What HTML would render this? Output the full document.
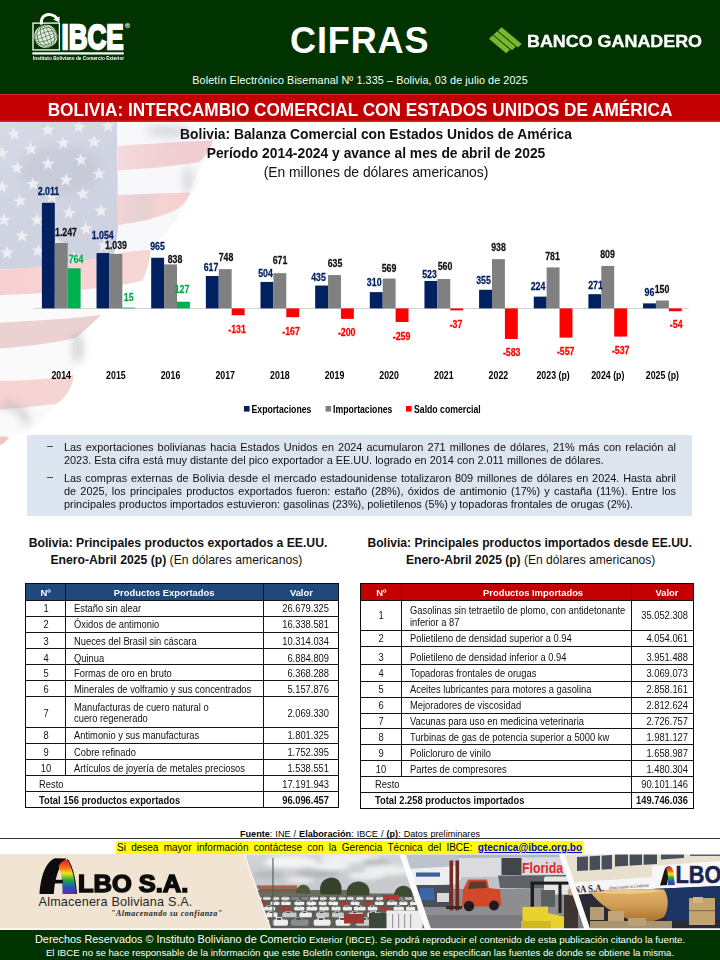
<!DOCTYPE html>
<html lang="es">
<head>
<meta charset="utf-8">
<title>CIFRAS - Bolivia: Intercambio comercial con Estados Unidos de América</title>
<style>
*{margin:0;padding:0;box-sizing:border-box}
html,body{width:720px;height:960px;overflow:hidden;background:#fff}
body{font-family:"Liberation Sans",sans-serif;color:#000;position:relative}
#page{position:absolute;left:0;top:0;width:720px;height:960px;overflow:hidden;background:#fff}
.abs{position:absolute;white-space:nowrap;line-height:1}
/* header */
#hdr{position:absolute;left:0;top:0;width:720px;height:94px;background:#003300}
#banner{position:absolute;left:0;top:94px;width:720px;height:27.8px;background:linear-gradient(#d8483a 0,#c20003 1.5px,#c20003 25.5px,#cf2a2a 27.7px)}
#cifras{left:290px;top:23px;letter-spacing:.9px;font-size:36px;font-weight:bold;color:#fff;line-height:36px}
#sub{left:0;width:720px;text-align:center;top:74.2px;letter-spacing:.09px;font-size:10.8px;color:#fff;line-height:12px}
#btxt{left:0;width:720px;text-align:center;top:100px;transform:scaleX(.983);font-size:17.5px;font-weight:bold;color:#fff;line-height:21px}
#bg{left:527px;top:31.6px;font-size:17px;font-weight:bold;color:#fff;line-height:20px;transform-origin:0 0;transform:scaleX(1.053);-webkit-text-stroke:.35px #fff}
#ibcesub{left:32.5px;top:55.2px;transform:scaleX(.885);font-size:5.4px;font-weight:bold;color:#fff;line-height:7px;transform-origin:0 0}
.ct{left:32px;width:688px;text-align:center;font-size:13.85px;line-height:15px;color:#111}
.nt{font-size:10.9px;line-height:12px;color:#111}
.j{text-align:justify;text-align-last:justify;white-space:normal}
.tt{font-size:12.2px;line-height:15px;color:#111}
.hl{height:1.05px;background:#141414}
.vl{width:1.05px;background:#141414}
.th{text-align:center;transform:scaleX(.95);font-size:9.9px;font-weight:bold;color:#fff;line-height:11px}
.td{font-size:10px;line-height:11px;color:#111;transform:scaleX(.935);transform-origin:0 50%}
.td.r{transform-origin:100% 50%}
.td.c{transform-origin:50% 50%}
.b{font-weight:bold}
.ft{left:0;width:720px;text-align:center;color:#fff;font-size:10.2px;line-height:12px}
</style>
</head>
<body>
<div id="page">

<!-- HEADER -->
<div id="hdr"></div>
<svg id="logos" class="abs" style="left:0;top:0" width="720" height="94" viewBox="0 0 720 94">
<rect x="33" y="23.1" width="26.4" height="26.8" fill="none" stroke="#fff" stroke-width="1.3"/>
<circle cx="45.8" cy="36.4" r="11.6" fill="#e9efe6"/>
<g fill="none" stroke="#2a5a22" stroke-width=".7" opacity=".85"><ellipse cx="45.8" cy="36.4" rx="11.6" ry="4.2" transform="rotate(-20 45.8 36.4)"/><ellipse cx="45.8" cy="36.4" rx="11.6" ry="8.4" transform="rotate(-20 45.8 36.4)"/><ellipse cx="45.8" cy="36.4" rx="4.2" ry="11.6" transform="rotate(-20 45.8 36.4)"/><ellipse cx="45.8" cy="36.4" rx="8.4" ry="11.6" transform="rotate(-20 45.8 36.4)"/><line x1="34.9" y1="40.4" x2="56.7" y2="32.4"/><line x1="41.8" y1="25.5" x2="49.8" y2="47.3"/></g>
<path d="M41.6,24.5 C40.2,17 45.5,13.6 50.5,14.6 C53.5,15.2 55.6,16.6 56.6,18.2" fill="none" stroke="#fff" stroke-width="3" stroke-linecap="butt"/>
<polygon points="53.2,19.6 59.6,16.4 59.4,22.6" fill="#fff"/>
<text x="61.6" y="49.3" font-family="Liberation Sans, sans-serif" font-weight="bold" font-size="35" fill="#fff" stroke="#fff" stroke-width="2.3" stroke-linejoin="miter" textLength="62" lengthAdjust="spacingAndGlyphs">IBCE</text>
<circle cx="127.5" cy="25.6" r="2.3" fill="none" stroke="#fff" stroke-width=".6"/>
<text x="127.5" y="26.9" text-anchor="middle" font-family="Liberation Sans, sans-serif" font-weight="bold" font-size="3.6" fill="#fff">R</text>
<rect x="32.4" y="52.3" width="91.3" height="2.2" fill="#fff"/>
<polygon points="501.7,27.2 521.7,43.9 517.9,47.4 497.9,30.7" fill="#79b72e"/>
<polygon points="497.2,31.3 515.8,46.8 512.0,50.3 493.4,34.7" fill="#79b72e"/>
<polygon points="492.8,35.3 510.0,49.7 506.1,53.2 488.9,38.8" fill="#79b72e"/>
</svg>
<div class="abs" id="ibcesub">Instituto Boliviano de Comercio Exterior</div>
<div class="abs" id="cifras">CIFRAS</div>
<div class="abs" id="bg">BANCO GANADERO</div>
<div class="abs" id="sub">Boletín Electrónico Bisemanal Nº 1.335 – Bolivia, 03 de julio de 2025</div>
<div id="banner"></div>
<div class="abs" id="btxt">BOLIVIA: INTERCAMBIO COMERCIAL CON ESTADOS UNIDOS DE AMÉRICA</div>

<!-- CHART -->
<svg id="flag" class="abs" style="left:0;top:122px" width="340" height="326" viewBox="0 122 340 326">
<defs><filter id="bl" x="-10%" y="-10%" width="120%" height="120%"><feGaussianBlur stdDeviation="0.6"/></filter><filter id="bl2" x="-30%" y="-30%" width="160%" height="160%"><feGaussianBlur stdDeviation="4"/></filter><filter id="bs" x="-20%" y="-20%" width="140%" height="140%"><feGaussianBlur stdDeviation="0.45"/></filter><linearGradient id="cg" x1="0" y1="0" x2=".4" y2="1"><stop offset="0" stop-color="#d9dbe7"/><stop offset=".5" stop-color="#d1d4e2"/><stop offset="1" stop-color="#ced1df"/></linearGradient><linearGradient id="r1" x1="0" y1="0" x2="1" y2="0"><stop offset="0" stop-color="#f5dadb"/><stop offset=".4" stop-color="#f1d1d4"/><stop offset="1" stop-color="#f0cccf"/></linearGradient><linearGradient id="r1b" x1="0" y1="0" x2="1" y2="0"><stop offset="0" stop-color="#f2d4d5"/><stop offset=".35" stop-color="#e6d0d2"/><stop offset=".6" stop-color="#f6d2d1"/><stop offset="1" stop-color="#f6d0cf"/></linearGradient><linearGradient id="r2" x1="0" y1="0" x2="1" y2="0"><stop offset="0" stop-color="#f7d0d0"/><stop offset="1" stop-color="#f7d6d6"/></linearGradient></defs>
<g filter="url(#bl)">
<path d="M-6,268 L112,262 C108,290 104,305 101,315 C92,324 80,334 76,340 C74,352 75,364 74,375 C72,388 66,398 56,404 C48,414 38,424 29,432 L-6,440 Z" fill="#fafafb"/>
<path d="M-6,112 L117,112 L118,227 C117,245 114,256 111,263 C75,266 35,268 -6,270 Z" fill="url(#cg)"/>
<path d="M118,122 L150,122 C170,128 190,134 213,140 C206,156 196,176 190,192 C186,204 180,216 170,228 C160,240 152,246 150,250 L118,254 Z" fill="#f8f8fa"/>
<path d="M118,146 C150,143.5 184,141.5 213,140.5 C211,148 206,156 199,162 C175,166 145,169 118,170.5 Z" fill="url(#r1)"/>
<path d="M118,195 C145,194 170,193 190,192.5 C188,199 184,205 176,210 C158,218 140,222 118,225 Z" fill="url(#r1b)"/>
<path d="M-6,270.5 C40,267.5 85,261 118,254 C130,251 140,250 151,250 C149,262 147,272 142,281 C110,288 60,293 -6,295.5 Z" fill="url(#r2)"/>
<path d="M-6,323 C30,321 70,319 101,315 C92,324 84,331 76,338 C50,344 20,347 -6,349 Z" fill="#ecd1d3"/>
<path d="M-6,381 C25,381 50,379 74,375 C72,388 66,398 56,404 C35,407 15,408 -6,410 Z" fill="#f7d4d4"/>
<path d="M-6,437.5 C0,436 6,436.4 9,438 L3,444 L-6,446.5 Z" fill="#f2c4c4"/>
</g>
<g filter="url(#bl2)">
<ellipse cx="170" cy="131" rx="24" ry="6" fill="#b8bac6" opacity=".5"/>
<ellipse cx="188" cy="180" rx="5" ry="13" fill="#a8a8b0" opacity=".38"/>
<ellipse cx="78" cy="348" rx="5" ry="16" fill="#9a9aa0" opacity=".45"/>
<path d="M2,405 C16,404 26,412 26,424" stroke="#a8a8ae" stroke-width="6" fill="none" opacity=".6"/>
<ellipse cx="60" cy="170" rx="40" ry="24" fill="#b4b6c4" opacity=".3"/>
</g>
<g fill="#f0f0f4" opacity=".9" filter="url(#bs)">
<polygon points="13.0,127.0 15.4,131.4 20.4,130.9 16.9,134.5 18.9,139.1 14.4,137.0 10.7,140.3 11.3,135.3 7.0,132.8 11.9,131.9"/>
<polygon points="47.9,122.9 49.7,127.6 54.7,127.7 50.9,130.9 52.3,135.7 48.1,133.0 43.9,135.8 45.2,131.0 41.2,127.9 46.2,127.6"/>
<polygon points="79.7,119.9 81.0,124.8 85.9,125.5 81.7,128.2 82.5,133.1 78.7,130.0 74.2,132.3 76.1,127.6 72.5,124.1 77.5,124.4"/>
<polygon points="62.6,135.9 64.6,140.5 69.6,140.5 65.9,143.8 67.5,148.5 63.2,146.0 59.1,149.0 60.2,144.1 56.1,141.2 61.1,140.7"/>
<polygon points="94.5,134.9 95.9,139.7 100.9,140.3 96.8,143.1 97.8,148.0 93.8,145.0 89.4,147.4 91.1,142.7 87.4,139.3 92.4,139.5"/>
<polygon points="30.4,141.9 32.5,146.4 37.5,146.2 33.9,149.7 35.7,154.4 31.3,152.0 27.3,155.1 28.3,150.2 24.1,147.4 29.0,146.7"/>
<polygon points="2.2,145.9 3.8,150.7 8.8,151.0 4.8,154.0 6.0,158.9 1.9,156.0 -2.4,158.6 -0.9,153.8 -4.7,150.6 0.3,150.5"/>
<polygon points="80.1,153.0 82.4,157.4 87.4,157.0 83.9,160.6 85.8,165.2 81.4,163.0 77.6,166.2 78.3,161.3 74.0,158.6 79.0,157.8"/>
<polygon points="48.0,156.9 49.8,161.6 54.8,161.8 50.8,164.9 52.2,169.7 48.0,167.0 43.8,169.7 45.2,164.9 41.2,161.8 46.2,161.6"/>
<polygon points="17.9,161.0 19.0,165.8 24.0,166.6 19.7,169.3 20.4,174.2 16.6,171.0 12.2,173.2 14.1,168.6 10.6,165.0 15.6,165.4"/>
<polygon points="98.8,166.9 100.7,171.5 105.7,171.6 101.9,174.8 103.4,179.6 99.1,177.0 95.0,179.9 96.2,175.0 92.2,172.0 97.2,171.7"/>
<polygon points="66.6,172.9 68.0,177.7 72.9,178.4 68.7,181.2 69.7,186.1 65.7,183.0 61.3,185.4 63.1,180.7 59.5,177.2 64.5,177.4"/>
<polygon points="32.5,176.9 34.6,181.5 39.6,181.3 35.9,184.7 37.6,189.4 33.2,187.0 29.2,190.0 30.2,185.1 26.1,182.3 31.1,181.7"/>
<polygon points="2.4,179.9 3.9,184.7 8.9,185.2 4.8,188.1 5.9,193.0 1.8,190.0 -2.5,192.5 -0.9,187.8 -4.6,184.5 0.4,184.5"/>
<polygon points="82.3,186.9 84.5,191.4 89.5,191.1 85.9,194.6 87.8,199.3 83.3,197.0 79.5,200.1 80.3,195.2 76.1,192.5 81.0,191.8"/>
<polygon points="52.1,189.9 53.8,194.6 58.8,194.9 54.8,198.0 56.1,202.8 51.9,200.0 47.7,202.7 49.1,197.9 45.3,194.7 50.3,194.6"/>
<polygon points="19.0,194.0 21.4,198.4 26.4,197.9 22.9,201.5 24.9,206.1 20.4,204.0 16.7,207.3 17.3,202.3 13.0,199.8 17.9,198.9"/>
<polygon points="100.9,203.9 102.7,208.6 107.7,208.7 103.9,211.9 105.3,216.7 101.1,214.0 96.9,216.8 98.2,212.0 94.2,208.9 99.2,208.6"/>
<polygon points="69.7,205.9 71.0,210.8 75.9,211.5 71.7,214.2 72.5,219.1 68.7,216.0 64.2,218.3 66.1,213.6 62.5,210.1 67.5,210.4"/>
<polygon points="36.6,212.9 38.6,217.5 43.6,217.5 39.9,220.8 41.5,225.5 37.2,223.0 33.1,226.0 34.2,221.1 30.1,218.2 35.1,217.7"/>
<polygon points="4.5,212.9 5.9,217.7 10.9,218.3 6.8,221.1 7.8,226.0 3.8,223.0 -0.6,225.4 1.1,220.7 -2.6,217.3 2.4,217.5"/>
<polygon points="85.4,221.9 87.5,226.4 92.5,226.2 88.9,229.7 90.7,234.4 86.3,232.0 82.3,235.1 83.3,230.2 79.1,227.4 84.0,226.7"/>
<polygon points="22.2,228.9 23.8,233.7 28.8,234.0 24.8,237.0 26.0,241.9 21.9,239.0 17.6,241.6 19.1,236.8 15.3,233.6 20.3,233.5"/>
<polygon points="56.1,237.0 58.4,241.4 63.4,241.0 59.9,244.6 61.8,249.2 57.4,247.0 53.6,250.2 54.3,245.3 50.0,242.6 55.0,241.8"/>
<polygon points="7.0,245.9 8.8,250.6 13.8,250.8 9.8,253.9 11.2,258.7 7.0,256.0 2.8,258.7 4.2,253.9 0.2,250.8 5.2,250.6"/>
<polygon points="38.9,244.0 40.0,248.8 45.0,249.6 40.7,252.3 41.4,257.2 37.6,254.0 33.2,256.2 35.1,251.6 31.6,248.0 36.6,248.4"/>
<polygon points="107.8,118.9 109.7,123.5 114.7,123.6 110.9,126.8 112.4,131.6 108.1,129.0 104.0,131.9 105.2,127.0 101.2,124.0 106.2,123.7"/>
<polygon points="104.6,238.9 106.0,243.7 110.9,244.4 106.7,247.2 107.7,252.1 103.7,249.0 99.3,251.4 101.1,246.7 97.5,243.2 102.5,243.4"/>
<polygon points="73.5,250.9 75.6,255.5 80.6,255.3 76.9,258.7 78.6,263.4 74.2,261.0 70.2,264.0 71.2,259.1 67.1,256.3 72.1,255.7"/>
</g></svg>
<svg id="chart" class="abs" style="left:0;top:122px" width="720" height="311" viewBox="0 122 720 311" font-family="Liberation Sans, sans-serif" font-weight="bold">
<rect x="33.5" y="308.0" width="655" height="0.9" fill="#d0d0d0"/>
<rect x="41.90" y="202.82" width="12.9" height="105.58" fill="#002060"/>
<rect x="54.80" y="242.93" width="12.9" height="65.47" fill="#808080"/>
<rect x="67.70" y="268.29" width="12.9" height="40.11" fill="#00b050"/>
<rect x="96.55" y="253.06" width="12.9" height="55.34" fill="#002060"/>
<rect x="109.45" y="253.85" width="12.9" height="54.55" fill="#808080"/>
<rect x="122.35" y="307.61" width="12.9" height="0.79" fill="#00b050"/>
<rect x="151.20" y="257.74" width="12.9" height="50.66" fill="#002060"/>
<rect x="164.10" y="264.40" width="12.9" height="43.99" fill="#808080"/>
<rect x="177.00" y="301.73" width="12.9" height="6.67" fill="#00b050"/>
<rect x="205.85" y="276.01" width="12.9" height="32.39" fill="#002060"/>
<rect x="218.75" y="269.13" width="12.9" height="39.27" fill="#808080"/>
<rect x="231.65" y="308.40" width="12.9" height="6.88" fill="#ff0000"/>
<rect x="260.50" y="281.94" width="12.9" height="26.46" fill="#002060"/>
<rect x="273.40" y="273.17" width="12.9" height="35.23" fill="#808080"/>
<rect x="286.30" y="308.40" width="12.9" height="8.77" fill="#ff0000"/>
<rect x="315.15" y="285.56" width="12.9" height="22.84" fill="#002060"/>
<rect x="328.05" y="275.06" width="12.9" height="33.34" fill="#808080"/>
<rect x="340.95" y="308.40" width="12.9" height="10.50" fill="#ff0000"/>
<rect x="369.80" y="292.12" width="12.9" height="16.27" fill="#002060"/>
<rect x="382.70" y="278.53" width="12.9" height="29.87" fill="#808080"/>
<rect x="395.60" y="308.40" width="12.9" height="13.60" fill="#ff0000"/>
<rect x="424.45" y="280.94" width="12.9" height="27.46" fill="#002060"/>
<rect x="437.35" y="279.00" width="12.9" height="29.40" fill="#808080"/>
<rect x="450.25" y="308.40" width="12.9" height="1.94" fill="#ff0000"/>
<rect x="479.10" y="289.76" width="12.9" height="18.64" fill="#002060"/>
<rect x="492.00" y="259.15" width="12.9" height="49.24" fill="#808080"/>
<rect x="504.90" y="308.40" width="12.9" height="30.61" fill="#ff0000"/>
<rect x="533.75" y="296.64" width="12.9" height="11.76" fill="#002060"/>
<rect x="546.65" y="267.40" width="12.9" height="41.00" fill="#808080"/>
<rect x="559.55" y="308.40" width="12.9" height="29.24" fill="#ff0000"/>
<rect x="588.40" y="294.17" width="12.9" height="14.23" fill="#002060"/>
<rect x="601.30" y="265.93" width="12.9" height="42.47" fill="#808080"/>
<rect x="614.20" y="308.40" width="12.9" height="28.19" fill="#ff0000"/>
<rect x="643.05" y="303.36" width="12.9" height="5.04" fill="#002060"/>
<rect x="655.95" y="300.52" width="12.9" height="7.88" fill="#808080"/>
<rect x="668.85" y="308.40" width="12.9" height="2.83" fill="#ff0000"/>
<g transform="translate(48.5,194.5) scale(0.815,1)"><text text-anchor="middle" font-size="10.8" fill="#002060" stroke="#002060" stroke-width=".25">2.011</text></g>
<g transform="translate(66.0,235.5) scale(0.815,1)"><text text-anchor="middle" font-size="10.8" fill="#111111" stroke="#111111" stroke-width=".25">1.247</text></g>
<g transform="translate(76,262.5) scale(0.815,1)"><text text-anchor="middle" font-size="10.8" fill="#00b050" stroke="#00b050" stroke-width=".25">764</text></g>
<g transform="translate(102.7,239.0) scale(0.815,1)"><text text-anchor="middle" font-size="10.8" fill="#002060" stroke="#002060" stroke-width=".25">1.054</text></g>
<g transform="translate(116,249.0) scale(0.815,1)"><text text-anchor="middle" font-size="10.8" fill="#111111" stroke="#111111" stroke-width=".25">1.039</text></g>
<g transform="translate(128.7,300.5) scale(0.815,1)"><text text-anchor="middle" font-size="10.8" fill="#00b050" stroke="#00b050" stroke-width=".25">15</text></g>
<g transform="translate(157.5,249.5) scale(0.815,1)"><text text-anchor="middle" font-size="10.8" fill="#002060" stroke="#002060" stroke-width=".25">965</text></g>
<g transform="translate(175,262.5) scale(0.815,1)"><text text-anchor="middle" font-size="10.8" fill="#111111" stroke="#111111" stroke-width=".25">838</text></g>
<g transform="translate(182,293.0) scale(0.815,1)"><text text-anchor="middle" font-size="10.8" fill="#00b050" stroke="#00b050" stroke-width=".25">127</text></g>
<g transform="translate(211,271.0) scale(0.815,1)"><text text-anchor="middle" font-size="10.8" fill="#002060" stroke="#002060" stroke-width=".25">617</text></g>
<g transform="translate(226,260.5) scale(0.815,1)"><text text-anchor="middle" font-size="10.8" fill="#111111" stroke="#111111" stroke-width=".25">748</text></g>
<g transform="translate(237,332.5) scale(0.815,1)"><text text-anchor="middle" font-size="10.8" fill="#ff0000" stroke="#ff0000" stroke-width=".25">-131</text></g>
<g transform="translate(265.5,277.0) scale(0.815,1)"><text text-anchor="middle" font-size="10.8" fill="#002060" stroke="#002060" stroke-width=".25">504</text></g>
<g transform="translate(280,264.0) scale(0.815,1)"><text text-anchor="middle" font-size="10.8" fill="#111111" stroke="#111111" stroke-width=".25">671</text></g>
<g transform="translate(291,334.5) scale(0.815,1)"><text text-anchor="middle" font-size="10.8" fill="#ff0000" stroke="#ff0000" stroke-width=".25">-167</text></g>
<g transform="translate(318.5,281.0) scale(0.815,1)"><text text-anchor="middle" font-size="10.8" fill="#002060" stroke="#002060" stroke-width=".25">435</text></g>
<g transform="translate(335,266.5) scale(0.815,1)"><text text-anchor="middle" font-size="10.8" fill="#111111" stroke="#111111" stroke-width=".25">635</text></g>
<g transform="translate(346.7,335.5) scale(0.815,1)"><text text-anchor="middle" font-size="10.8" fill="#ff0000" stroke="#ff0000" stroke-width=".25">-200</text></g>
<g transform="translate(374.2,285.5) scale(0.815,1)"><text text-anchor="middle" font-size="10.8" fill="#002060" stroke="#002060" stroke-width=".25">310</text></g>
<g transform="translate(389,271.5) scale(0.815,1)"><text text-anchor="middle" font-size="10.8" fill="#111111" stroke="#111111" stroke-width=".25">569</text></g>
<g transform="translate(401.5,339.5) scale(0.815,1)"><text text-anchor="middle" font-size="10.8" fill="#ff0000" stroke="#ff0000" stroke-width=".25">-259</text></g>
<g transform="translate(429.5,277.5) scale(0.815,1)"><text text-anchor="middle" font-size="10.8" fill="#002060" stroke="#002060" stroke-width=".25">523</text></g>
<g transform="translate(445,269.5) scale(0.815,1)"><text text-anchor="middle" font-size="10.8" fill="#111111" stroke="#111111" stroke-width=".25">560</text></g>
<g transform="translate(456,327.5) scale(0.815,1)"><text text-anchor="middle" font-size="10.8" fill="#ff0000" stroke="#ff0000" stroke-width=".25">-37</text></g>
<g transform="translate(483.5,283.5) scale(0.815,1)"><text text-anchor="middle" font-size="10.8" fill="#002060" stroke="#002060" stroke-width=".25">355</text></g>
<g transform="translate(498.5,250.5) scale(0.815,1)"><text text-anchor="middle" font-size="10.8" fill="#111111" stroke="#111111" stroke-width=".25">938</text></g>
<g transform="translate(511.7,356.0) scale(0.815,1)"><text text-anchor="middle" font-size="10.8" fill="#ff0000" stroke="#ff0000" stroke-width=".25">-583</text></g>
<g transform="translate(538,290.0) scale(0.815,1)"><text text-anchor="middle" font-size="10.8" fill="#002060" stroke="#002060" stroke-width=".25">224</text></g>
<g transform="translate(552.5,259.5) scale(0.815,1)"><text text-anchor="middle" font-size="10.8" fill="#111111" stroke="#111111" stroke-width=".25">781</text></g>
<g transform="translate(565.7,355.0) scale(0.815,1)"><text text-anchor="middle" font-size="10.8" fill="#ff0000" stroke="#ff0000" stroke-width=".25">-557</text></g>
<g transform="translate(595.5,289.0) scale(0.815,1)"><text text-anchor="middle" font-size="10.8" fill="#002060" stroke="#002060" stroke-width=".25">271</text></g>
<g transform="translate(607.5,258.0) scale(0.815,1)"><text text-anchor="middle" font-size="10.8" fill="#111111" stroke="#111111" stroke-width=".25">809</text></g>
<g transform="translate(620.7,354.0) scale(0.815,1)"><text text-anchor="middle" font-size="10.8" fill="#ff0000" stroke="#ff0000" stroke-width=".25">-537</text></g>
<g transform="translate(649.5,295.5) scale(0.815,1)"><text text-anchor="middle" font-size="10.8" fill="#002060" stroke="#002060" stroke-width=".25">96</text></g>
<g transform="translate(662,293.0) scale(0.815,1)"><text text-anchor="middle" font-size="10.8" fill="#111111" stroke="#111111" stroke-width=".25">150</text></g>
<g transform="translate(676.2,328.0) scale(0.815,1)"><text text-anchor="middle" font-size="10.8" fill="#ff0000" stroke="#ff0000" stroke-width=".25">-54</text></g>
<g transform="translate(61.2,378.7) scale(.88,1)"><text text-anchor="middle" font-size="10" fill="#000">2014</text></g>
<g transform="translate(115.9,378.7) scale(.88,1)"><text text-anchor="middle" font-size="10" fill="#000">2015</text></g>
<g transform="translate(170.5,378.7) scale(.88,1)"><text text-anchor="middle" font-size="10" fill="#000">2016</text></g>
<g transform="translate(225.2,378.7) scale(.88,1)"><text text-anchor="middle" font-size="10" fill="#000">2017</text></g>
<g transform="translate(279.9,378.7) scale(.88,1)"><text text-anchor="middle" font-size="10" fill="#000">2018</text></g>
<g transform="translate(334.5,378.7) scale(.88,1)"><text text-anchor="middle" font-size="10" fill="#000">2019</text></g>
<g transform="translate(389.1,378.7) scale(.88,1)"><text text-anchor="middle" font-size="10" fill="#000">2020</text></g>
<g transform="translate(443.8,378.7) scale(.88,1)"><text text-anchor="middle" font-size="10" fill="#000">2021</text></g>
<g transform="translate(498.4,378.7) scale(.88,1)"><text text-anchor="middle" font-size="10" fill="#000">2022</text></g>
<g transform="translate(553.1,378.7) scale(.88,1)"><text text-anchor="middle" font-size="10" fill="#000">2023 (p)</text></g>
<g transform="translate(607.8,378.7) scale(.88,1)"><text text-anchor="middle" font-size="10" fill="#000">2024 (p)</text></g>
<g transform="translate(662.4,378.7) scale(.88,1)"><text text-anchor="middle" font-size="10" fill="#000">2025 (p)</text></g>
<rect x="244" y="406" width="5.6" height="5.6" fill="#002060"/>
<g transform="translate(251.5,412.6) scale(.87,1)"><text font-size="10" fill="#000">Exportaciones</text></g>
<rect x="325.5" y="406" width="5.6" height="5.6" fill="#808080"/>
<g transform="translate(333,412.6) scale(.87,1)"><text font-size="10" fill="#000">Importaciones</text></g>
<rect x="406" y="406" width="5.6" height="5.6" fill="#ff0000"/>
<g transform="translate(414,412.6) scale(.87,1)"><text font-size="10" fill="#000">Saldo comercial</text></g>
</svg>
<div class="abs ct" id="ct1" style="top:127.2px"><b>Bolivia: Balanza Comercial con Estados Unidos de América</b></div>
<div class="abs ct" id="ct2" style="top:145.8px"><b>Período 2014-2024 y avance al mes de abril de 2025</b></div>
<div class="abs ct" id="ct3" style="top:164.8px">(En millones de dólares americanos)</div>

<!-- NOTES -->

<!-- TABLES -->
<div id="notes" class="abs" style="left:26.7px;top:435px;width:665.8px;height:80.7px;background:#dce5f0"></div>
<div class="abs nt" style="left:46.9px;top:439.3px">–</div>
<div class="abs nt" style="left:46.9px;top:470.3px">–</div>
<div class="abs nt j" style="left:64px;top:441.1px;width:612px">Las exportaciones bolivianas hacia Estados Unidos en 2024 acumularon 271 millones de dólares, 21% más con relación al</div>
<div class="abs nt" style="left:64px;top:454.3px">2023. Esta cifra está muy distante del pico exportador a EE.UU. logrado en 2014 con 2.011 millones de dólares.</div>
<div class="abs nt j" style="left:64px;top:472px;width:612px">Las compras externas de Bolivia desde el mercado estadounidense totalizaron 809 millones de dólares en 2024. Hasta abril</div>
<div class="abs nt j" style="left:64px;top:485.1px;width:612px">de 2025, los principales productos exportados fueron: estaño (28%), óxidos de antimonio (17%) y castaña (11%). Entre los</div>
<div class="abs nt" style="left:64px;top:497.9px">principales productos importados estuvieron: gasolinas (23%), polietilenos (5%) y topadoras frontales de orugas (2%).</div>
<div class="abs tt" style="left:28.7px;top:536.2px"><b>Bolivia: Principales productos exportados a EE.UU.</b></div>
<div class="abs tt" style="left:50.4px;top:552.6px"><b>Enero-Abril 2025 (p)</b> (En dólares americanos)</div>
<div class="abs tt" style="left:367.5px;top:536.2px;font-size:12.07px"><b>Bolivia: Principales productos importados desde EE.UU.</b></div>
<div class="abs tt" style="left:406px;top:552.6px;font-size:12.07px"><b>Enero-Abril 2025 (p)</b> (En dólares americanos)</div>
<div class="abs" style="left:26px;top:584px;width:312.3px;height:16.299999999999955px;background:#1f497d"></div>
<div class="abs" style="left:25.3px;top:583.3px;width:313.7px;height:225.00000000000003px;border:1.4px solid #0a0a0a"></div>
<div class="abs hl" style="left:26px;top:599.8px;width:312.3px"></div>
<div class="abs hl" style="left:26px;top:615.7px;width:312.3px"></div>
<div class="abs hl" style="left:26px;top:631.8px;width:312.3px"></div>
<div class="abs hl" style="left:26px;top:647.8px;width:312.3px"></div>
<div class="abs hl" style="left:26px;top:663.8px;width:312.3px"></div>
<div class="abs hl" style="left:26px;top:680.0px;width:312.3px"></div>
<div class="abs hl" style="left:26px;top:696.3px;width:312.3px"></div>
<div class="abs hl" style="left:26px;top:727.0px;width:312.3px"></div>
<div class="abs hl" style="left:26px;top:742.8px;width:312.3px"></div>
<div class="abs hl" style="left:26px;top:759.0px;width:312.3px"></div>
<div class="abs hl" style="left:26px;top:775.2px;width:312.3px"></div>
<div class="abs hl" style="left:26px;top:791.2px;width:312.3px"></div>
<div class="abs vl" style="left:64.7px;top:584px;height:191.70000000000005px"></div>
<div class="abs vl" style="left:263.0px;top:584px;height:223.60000000000002px"></div>
<div class="abs th" style="left:26px;width:39.2px;top:586.65px">Nº</div>
<div class="abs th" style="left:65.2px;width:198.3px;top:586.65px">Productos Exportados</div>
<div class="abs th" style="left:263.5px;width:74.80000000000001px;top:586.65px">Valor</div>
<div class="abs td c" style="left:30.5px;width:30px;text-align:center;top:603.25px">1</div>
<div class="abs td" style="left:74px;top:603.25px">Estaño sin alear</div>
<div class="abs td r" style="left:249px;width:80px;text-align:right;top:603.25px">26.679.325</div>
<div class="abs td c" style="left:30.5px;width:30px;text-align:center;top:619.45px">2</div>
<div class="abs td" style="left:74px;top:619.45px">Óxidos de antimonio</div>
<div class="abs td r" style="left:249px;width:80px;text-align:right;top:619.45px">16.338.581</div>
<div class="abs td c" style="left:30.5px;width:30px;text-align:center;top:636.30px">3</div>
<div class="abs td" style="left:74px;top:636.30px">Nueces del Brasil sin cáscara</div>
<div class="abs td r" style="left:249px;width:80px;text-align:right;top:636.30px">10.314.034</div>
<div class="abs td c" style="left:30.5px;width:30px;text-align:center;top:652.50px">4</div>
<div class="abs td" style="left:74px;top:652.50px">Quinua</div>
<div class="abs td r" style="left:249px;width:80px;text-align:right;top:652.50px">6.884.809</div>
<div class="abs td c" style="left:30.5px;width:30px;text-align:center;top:668.45px">5</div>
<div class="abs td" style="left:74px;top:668.45px">Formas de oro en bruto</div>
<div class="abs td r" style="left:249px;width:80px;text-align:right;top:668.45px">6.368.288</div>
<div class="abs td c" style="left:30.5px;width:30px;text-align:center;top:684.05px">6</div>
<div class="abs td" style="left:74px;top:684.05px">Minerales de volframio y sus concentrados</div>
<div class="abs td r" style="left:249px;width:80px;text-align:right;top:684.05px">5.157.876</div>
<div class="abs td c" style="left:30.5px;width:30px;text-align:center;top:707.60px">7</div>
<div class="abs td" style="left:74px;top:702.40px">Manufacturas de cuero natural o</div>
<div class="abs td" style="left:74px;top:712.90px">cuero regenerado</div>
<div class="abs td r" style="left:249px;width:80px;text-align:right;top:707.60px">2.069.330</div>
<div class="abs td c" style="left:30.5px;width:30px;text-align:center;top:730.10px">8</div>
<div class="abs td" style="left:74px;top:730.10px">Antimonio y sus manufacturas</div>
<div class="abs td r" style="left:249px;width:80px;text-align:right;top:730.10px">1.801.325</div>
<div class="abs td c" style="left:30.5px;width:30px;text-align:center;top:746.65px">9</div>
<div class="abs td" style="left:74px;top:746.65px">Cobre refinado</div>
<div class="abs td r" style="left:249px;width:80px;text-align:right;top:746.65px">1.752.395</div>
<div class="abs td c" style="left:30.5px;width:30px;text-align:center;top:762.75px">10</div>
<div class="abs td" style="left:74px;top:762.75px">Artículos de joyería de metales preciosos</div>
<div class="abs td r" style="left:249px;width:80px;text-align:right;top:762.75px">1.538.551</div>
<div class="abs td" style="left:39px;top:779.30px">Resto</div>
<div class="abs td r" style="left:249px;width:80px;text-align:right;top:779.30px">17.191.943</div>
<div class="abs td b" style="left:39px;top:795.35px">Total 156 productos exportados</div>
<div class="abs td r b" style="left:249px;width:80px;text-align:right;top:795.35px">96.096.457</div>
<div class="abs" style="left:360.6px;top:584px;width:332.9px;height:16.399999999999977px;background:#c20000"></div>
<div class="abs" style="left:359.90000000000003px;top:583.3px;width:334.29999999999995px;height:225.4px;border:1.4px solid #0a0a0a"></div>
<div class="abs hl" style="left:360.6px;top:599.9px;width:332.9px"></div>
<div class="abs hl" style="left:360.6px;top:629.5px;width:332.9px"></div>
<div class="abs hl" style="left:360.6px;top:646.25px;width:332.9px"></div>
<div class="abs hl" style="left:360.6px;top:664.1px;width:332.9px"></div>
<div class="abs hl" style="left:360.6px;top:680.7px;width:332.9px"></div>
<div class="abs hl" style="left:360.6px;top:696.5px;width:332.9px"></div>
<div class="abs hl" style="left:360.6px;top:712.7px;width:332.9px"></div>
<div class="abs hl" style="left:360.6px;top:728.3px;width:332.9px"></div>
<div class="abs hl" style="left:360.6px;top:744.2px;width:332.9px"></div>
<div class="abs hl" style="left:360.6px;top:759.7px;width:332.9px"></div>
<div class="abs hl" style="left:360.6px;top:775.7px;width:332.9px"></div>
<div class="abs hl" style="left:360.6px;top:791.5px;width:332.9px"></div>
<div class="abs vl" style="left:400.9px;top:584px;height:192.20000000000005px"></div>
<div class="abs vl" style="left:631.0px;top:584px;height:224px"></div>
<div class="abs th" style="left:360.6px;width:40.799999999999955px;top:586.7px">Nº</div>
<div class="abs th" style="left:418.4px;width:230.10000000000002px;top:586.7px">Productos Importados</div>
<div class="abs th" style="left:635.5px;width:62.0px;top:586.7px">Valor</div>
<div class="abs td c" style="left:366px;width:30px;text-align:center;top:610.10px">1</div>
<div class="abs td" style="left:410px;top:605.15px">Gasolinas sin tetraetilo de plomo, con antidetonante</div>
<div class="abs td" style="left:410px;top:617.20px">inferior a 87</div>
<div class="abs td r" style="left:607.5px;width:80px;text-align:right;top:610.10px">35.052.308</div>
<div class="abs td c" style="left:366px;width:30px;text-align:center;top:633.35px">2</div>
<div class="abs td" style="left:410px;top:633.35px">Polietileno de densidad superior a 0.94</div>
<div class="abs td r" style="left:607.5px;width:80px;text-align:right;top:633.35px">4.054.061</div>
<div class="abs td c" style="left:366px;width:30px;text-align:center;top:651.85px">3</div>
<div class="abs td" style="left:410px;top:651.85px">Polietileno de densidad inferior a 0.94</div>
<div class="abs td r" style="left:607.5px;width:80px;text-align:right;top:651.85px">3.951.488</div>
<div class="abs td c" style="left:366px;width:30px;text-align:center;top:668.10px">4</div>
<div class="abs td" style="left:410px;top:668.10px">Topadoras frontales de orugas</div>
<div class="abs td r" style="left:607.5px;width:80px;text-align:right;top:668.10px">3.069.073</div>
<div class="abs td c" style="left:366px;width:30px;text-align:center;top:684.35px">5</div>
<div class="abs td" style="left:410px;top:684.35px">Aceites lubricantes para motores a gasolina</div>
<div class="abs td r" style="left:607.5px;width:80px;text-align:right;top:684.35px">2.858.161</div>
<div class="abs td c" style="left:366px;width:30px;text-align:center;top:700.10px">6</div>
<div class="abs td" style="left:410px;top:700.10px">Mejoradores de viscosidad</div>
<div class="abs td r" style="left:607.5px;width:80px;text-align:right;top:700.10px">2.812.624</div>
<div class="abs td c" style="left:366px;width:30px;text-align:center;top:716.10px">7</div>
<div class="abs td" style="left:410px;top:716.10px">Vacunas para uso en medicina veterinaria</div>
<div class="abs td r" style="left:607.5px;width:80px;text-align:right;top:716.10px">2.726.757</div>
<div class="abs td c" style="left:366px;width:30px;text-align:center;top:731.90px">8</div>
<div class="abs td" style="left:410px;top:731.90px">Turbinas de gas de potencia superior a 5000 kw</div>
<div class="abs td r" style="left:607.5px;width:80px;text-align:right;top:731.90px">1.981.127</div>
<div class="abs td c" style="left:366px;width:30px;text-align:center;top:747.85px">9</div>
<div class="abs td" style="left:410px;top:747.85px">Policloruro de vinilo</div>
<div class="abs td r" style="left:607.5px;width:80px;text-align:right;top:747.85px">1.658.987</div>
<div class="abs td c" style="left:366px;width:30px;text-align:center;top:763.85px">10</div>
<div class="abs td" style="left:410px;top:763.85px">Partes de compresores</div>
<div class="abs td r" style="left:607.5px;width:80px;text-align:right;top:763.85px">1.480.304</div>
<div class="abs td" style="left:375px;top:779.35px">Resto</div>
<div class="abs td r" style="left:607.5px;width:80px;text-align:right;top:779.35px">90.101.146</div>
<div class="abs td b" style="left:375px;top:795.25px">Total 2.258 productos importados</div>
<div class="abs td r b" style="left:607.5px;width:80px;text-align:right;top:795.25px">149.746.036</div>

<!-- FOOTER -->
<div class="abs" id="src" style="left:0;width:720px;text-align:center;top:828.8px;font-size:9.1px;word-spacing:.5px;line-height:10px"><b><u>Fuente</u></b>: INE / <b><u>Elaboración</u></b>: IBCE / <b><u>(p)</u></b>: Datos preliminares</div>
<div class="abs" style="left:0;top:837.8px;width:720px;height:1px;background:#333"></div>
<div class="abs" id="ylw" style="left:115.5px;top:841px;width:467.5px;height:13px;background:#ffff00"></div>
<div class="abs" id="ytx" style="left:117px;top:841.8px;font-size:10px;word-spacing:2.5px;line-height:11px">Si desea mayor información contáctese con la Gerencia Técnica del IBCE: <b style="color:#0000e0;text-decoration:underline">gtecnica@ibce.org.bo</b></div>
<div class="abs" id="beige" style="left:0;top:854px;width:720px;height:75px;background:#f1e4d2"></div>
<svg id="photos" class="abs" style="left:0;top:852px" width="720" height="78" viewBox="0 852 720 78">
<defs>
<filter id="pb" x="-5%" y="-5%" width="110%" height="110%"><feGaussianBlur stdDeviation="0.75"/></filter>
<filter id="pc" x="-5%" y="-5%" width="110%" height="110%"><feGaussianBlur stdDeviation="2.2"/></filter>
<clipPath id="c1"><polygon points="245,854.5 399.4,854.5 424.5,928.2 271,928.2"/></clipPath>
<clipPath id="c2"><polygon points="405.7,854.5 559,854.5 584,928.2 430.8,928.2"/></clipPath>
<clipPath id="c3"><polygon points="564.8,854.5 720,854.5 720,928.2 589.9,928.2"/></clipPath>
<linearGradient id="sky1" x1="0" y1="0" x2="0" y2="1"><stop offset="0" stop-color="#d4d8dc"/><stop offset="1" stop-color="#c4c8cc"/></linearGradient>
<linearGradient id="rb" x1="0" y1="0" x2="0" y2="1"><stop offset="0" stop-color="#e2201c"/><stop offset=".22" stop-color="#f0641c"/><stop offset=".4" stop-color="#f4e21c"/><stop offset=".6" stop-color="#22a83c"/><stop offset=".8" stop-color="#1c54c4"/><stop offset="1" stop-color="#6a2c9c"/></linearGradient>
<linearGradient id="tarp" x1="0" y1="0" x2="0" y2="1"><stop offset="0" stop-color="#e2b46c"/><stop offset=".5" stop-color="#d09c54"/><stop offset="1" stop-color="#a8702c"/></linearGradient>
</defs>
<polygon points="243.6,854 720,854 720,929.7 270.4,929.7" fill="#fbfbfb"/><rect x="0" y="928.3" width="720" height="1.5" fill="#fbfbf6"/>
<!-- photo 1: parking lot -->
<g clip-path="url(#c1)">
<rect x="240" y="850" width="190" height="40" fill="url(#sky1)"/>
<g filter="url(#pc)"><ellipse cx="290" cy="862" rx="26" ry="6" fill="#f4f4f4"/><ellipse cx="330" cy="866" rx="20" ry="4" fill="#f2f2f2"/><ellipse cx="366" cy="876" rx="18" ry="3.5" fill="#efefef"/><ellipse cx="300" cy="880" rx="14" ry="3" fill="#ececec"/><ellipse cx="350" cy="858" rx="30" ry="5" fill="#f0f0f0"/><ellipse cx="388" cy="870" rx="24" ry="5" fill="#eeeeee"/><ellipse cx="318" cy="874" rx="22" ry="4" fill="#b4b6ba"/><ellipse cx="268" cy="875" rx="16" ry="4" fill="#b8babc"/><ellipse cx="376" cy="862" rx="14" ry="3" fill="#b6b8bc"/></g>
<g filter="url(#pb)">
<rect x="240" y="893" width="190" height="40" fill="#5c5e58"/>
<rect x="245.9" y="897.2" width="6.7" height="2.6" rx="0.7" fill="#eeeeee"/>
<rect x="247.4" y="896.2" width="2.8" height="1.3" rx="0.4" fill="#eeeeee" opacity=".9"/>
<rect x="248.0" y="896.6" width="1.7" height="0.8" fill="#4a4e54"/>
<rect x="254.1" y="897.2" width="7.6" height="2.6" rx="0.7" fill="#eeeeee"/>
<rect x="255.8" y="896.2" width="3.2" height="1.3" rx="0.4" fill="#eeeeee" opacity=".9"/>
<rect x="256.4" y="896.6" width="2.0" height="0.8" fill="#4a4e54"/>
<rect x="263.1" y="897.2" width="7.5" height="2.6" rx="0.7" fill="#eeeeee"/>
<rect x="264.8" y="896.2" width="3.2" height="1.3" rx="0.4" fill="#eeeeee" opacity=".9"/>
<rect x="265.4" y="896.6" width="2.0" height="0.8" fill="#4a4e54"/>
<rect x="272.7" y="897.2" width="6.5" height="2.6" rx="0.7" fill="#eeeeee"/>
<rect x="274.1" y="896.2" width="2.7" height="1.3" rx="0.4" fill="#eeeeee" opacity=".9"/>
<rect x="274.7" y="896.6" width="1.7" height="0.8" fill="#4a4e54"/>
<rect x="281.3" y="897.2" width="8.2" height="2.6" rx="0.7" fill="#eeeeee"/>
<rect x="283.1" y="896.2" width="3.5" height="1.3" rx="0.4" fill="#eeeeee" opacity=".9"/>
<rect x="283.8" y="896.6" width="2.1" height="0.8" fill="#4a4e54"/>
<rect x="291.3" y="897.2" width="7.8" height="2.6" rx="0.7" fill="#8a8c8e"/>
<rect x="293.0" y="896.2" width="3.3" height="1.3" rx="0.4" fill="#8a8c8e" opacity=".9"/>
<rect x="293.6" y="896.6" width="2.0" height="0.8" fill="#4a4e54"/>
<rect x="301.4" y="897.2" width="7.3" height="2.6" rx="0.7" fill="#8a8c8e"/>
<rect x="303.0" y="896.2" width="3.1" height="1.3" rx="0.4" fill="#8a8c8e" opacity=".9"/>
<rect x="303.6" y="896.6" width="1.9" height="0.8" fill="#4a4e54"/>
<rect x="310.0" y="897.2" width="8.3" height="2.6" rx="0.7" fill="#eeeeee"/>
<rect x="311.9" y="896.2" width="3.5" height="1.3" rx="0.4" fill="#eeeeee" opacity=".9"/>
<rect x="312.5" y="896.6" width="2.2" height="0.8" fill="#4a4e54"/>
<rect x="319.9" y="897.2" width="6.6" height="2.6" rx="0.7" fill="#eeeeee"/>
<rect x="321.4" y="896.2" width="2.8" height="1.3" rx="0.4" fill="#eeeeee" opacity=".9"/>
<rect x="321.9" y="896.6" width="1.7" height="0.8" fill="#4a4e54"/>
<rect x="329.3" y="897.2" width="6.8" height="2.6" rx="0.7" fill="#eeeeee"/>
<rect x="330.8" y="896.2" width="2.8" height="1.3" rx="0.4" fill="#eeeeee" opacity=".9"/>
<rect x="331.4" y="896.6" width="1.8" height="0.8" fill="#4a4e54"/>
<rect x="338.6" y="897.2" width="7.2" height="2.6" rx="0.7" fill="#eeeeee"/>
<rect x="340.1" y="896.2" width="3.0" height="1.3" rx="0.4" fill="#eeeeee" opacity=".9"/>
<rect x="340.7" y="896.6" width="1.9" height="0.8" fill="#4a4e54"/>
<rect x="347.2" y="897.2" width="6.5" height="2.6" rx="0.7" fill="#eeeeee"/>
<rect x="348.6" y="896.2" width="2.7" height="1.3" rx="0.4" fill="#eeeeee" opacity=".9"/>
<rect x="349.1" y="896.6" width="1.7" height="0.8" fill="#4a4e54"/>
<rect x="356.2" y="897.2" width="7.3" height="2.6" rx="0.7" fill="#eeeeee"/>
<rect x="357.8" y="896.2" width="3.1" height="1.3" rx="0.4" fill="#eeeeee" opacity=".9"/>
<rect x="358.4" y="896.6" width="1.9" height="0.8" fill="#4a4e54"/>
<rect x="365.9" y="897.2" width="7.4" height="2.6" rx="0.7" fill="#eeeeee"/>
<rect x="367.5" y="896.2" width="3.1" height="1.3" rx="0.4" fill="#eeeeee" opacity=".9"/>
<rect x="368.1" y="896.6" width="1.9" height="0.8" fill="#4a4e54"/>
<rect x="376.0" y="897.2" width="7.9" height="2.6" rx="0.7" fill="#eeeeee"/>
<rect x="377.8" y="896.2" width="3.3" height="1.3" rx="0.4" fill="#eeeeee" opacity=".9"/>
<rect x="378.4" y="896.6" width="2.1" height="0.8" fill="#4a4e54"/>
<rect x="386.3" y="897.2" width="7.6" height="2.6" rx="0.7" fill="#a83a36"/>
<rect x="388.0" y="896.2" width="3.2" height="1.3" rx="0.4" fill="#a83a36" opacity=".9"/>
<rect x="388.6" y="896.6" width="2.0" height="0.8" fill="#4a4e54"/>
<rect x="396.5" y="897.2" width="7.0" height="2.6" rx="0.7" fill="#8a8c8e"/>
<rect x="398.0" y="896.2" width="2.9" height="1.3" rx="0.4" fill="#8a8c8e" opacity=".9"/>
<rect x="398.6" y="896.6" width="1.8" height="0.8" fill="#4a4e54"/>
<rect x="405.0" y="897.2" width="7.3" height="2.6" rx="0.7" fill="#c9c9c9"/>
<rect x="406.6" y="896.2" width="3.1" height="1.3" rx="0.4" fill="#c9c9c9" opacity=".9"/>
<rect x="407.2" y="896.6" width="1.9" height="0.8" fill="#4a4e54"/>
<rect x="413.9" y="897.2" width="7.5" height="2.6" rx="0.7" fill="#eeeeee"/>
<rect x="415.6" y="896.2" width="3.1" height="1.3" rx="0.4" fill="#eeeeee" opacity=".9"/>
<rect x="416.2" y="896.6" width="1.9" height="0.8" fill="#4a4e54"/>
<rect x="423.9" y="897.2" width="8.1" height="2.6" rx="0.7" fill="#eeeeee"/>
<rect x="425.7" y="896.2" width="3.4" height="1.3" rx="0.4" fill="#eeeeee" opacity=".9"/>
<rect x="426.3" y="896.6" width="2.1" height="0.8" fill="#4a4e54"/>
<rect x="245.9" y="901.8" width="9.5" height="3.2" rx="0.9" fill="#eeeeee"/>
<rect x="248.0" y="900.6" width="4.0" height="1.6" rx="0.5" fill="#eeeeee" opacity=".9"/>
<rect x="248.7" y="901.1" width="2.5" height="1.0" fill="#4a4e54"/>
<rect x="258.2" y="901.8" width="8.9" height="3.2" rx="0.9" fill="#a83a36"/>
<rect x="260.1" y="900.6" width="3.7" height="1.6" rx="0.5" fill="#a83a36" opacity=".9"/>
<rect x="260.8" y="901.1" width="2.3" height="1.0" fill="#4a4e54"/>
<rect x="270.6" y="901.8" width="8.9" height="3.2" rx="0.9" fill="#eeeeee"/>
<rect x="272.5" y="900.6" width="3.8" height="1.6" rx="0.5" fill="#eeeeee" opacity=".9"/>
<rect x="273.3" y="901.1" width="2.3" height="1.0" fill="#4a4e54"/>
<rect x="281.2" y="901.8" width="9.5" height="3.2" rx="0.9" fill="#eeeeee"/>
<rect x="283.3" y="900.6" width="4.0" height="1.6" rx="0.5" fill="#eeeeee" opacity=".9"/>
<rect x="284.1" y="901.1" width="2.5" height="1.0" fill="#4a4e54"/>
<rect x="294.4" y="901.8" width="9.9" height="3.2" rx="0.9" fill="#eeeeee"/>
<rect x="296.5" y="900.6" width="4.1" height="1.6" rx="0.5" fill="#eeeeee" opacity=".9"/>
<rect x="297.3" y="901.1" width="2.6" height="1.0" fill="#4a4e54"/>
<rect x="306.6" y="901.8" width="9.5" height="3.2" rx="0.9" fill="#eeeeee"/>
<rect x="308.7" y="900.6" width="4.0" height="1.6" rx="0.5" fill="#eeeeee" opacity=".9"/>
<rect x="309.4" y="901.1" width="2.5" height="1.0" fill="#4a4e54"/>
<rect x="318.6" y="901.8" width="8.1" height="3.2" rx="0.9" fill="#eeeeee"/>
<rect x="320.4" y="900.6" width="3.4" height="1.6" rx="0.5" fill="#eeeeee" opacity=".9"/>
<rect x="321.0" y="901.1" width="2.1" height="1.0" fill="#4a4e54"/>
<rect x="328.4" y="901.8" width="9.7" height="3.2" rx="0.9" fill="#eeeeee"/>
<rect x="330.5" y="900.6" width="4.1" height="1.6" rx="0.5" fill="#eeeeee" opacity=".9"/>
<rect x="331.3" y="901.1" width="2.5" height="1.0" fill="#4a4e54"/>
<rect x="340.2" y="901.8" width="8.7" height="3.2" rx="0.9" fill="#a83a36"/>
<rect x="342.1" y="900.6" width="3.7" height="1.6" rx="0.5" fill="#a83a36" opacity=".9"/>
<rect x="342.8" y="901.1" width="2.3" height="1.0" fill="#4a4e54"/>
<rect x="350.6" y="901.8" width="8.9" height="3.2" rx="0.9" fill="#eeeeee"/>
<rect x="352.5" y="900.6" width="3.7" height="1.6" rx="0.5" fill="#eeeeee" opacity=".9"/>
<rect x="353.3" y="901.1" width="2.3" height="1.0" fill="#4a4e54"/>
<rect x="362.9" y="901.8" width="9.9" height="3.2" rx="0.9" fill="#a83a36"/>
<rect x="365.0" y="900.6" width="4.1" height="1.6" rx="0.5" fill="#a83a36" opacity=".9"/>
<rect x="365.8" y="901.1" width="2.6" height="1.0" fill="#4a4e54"/>
<rect x="374.9" y="901.8" width="8.8" height="3.2" rx="0.9" fill="#eeeeee"/>
<rect x="376.8" y="900.6" width="3.7" height="1.6" rx="0.5" fill="#eeeeee" opacity=".9"/>
<rect x="377.5" y="901.1" width="2.3" height="1.0" fill="#4a4e54"/>
<rect x="387.0" y="901.8" width="10.2" height="3.2" rx="0.9" fill="#eeeeee"/>
<rect x="389.3" y="900.6" width="4.3" height="1.6" rx="0.5" fill="#eeeeee" opacity=".9"/>
<rect x="390.1" y="901.1" width="2.7" height="1.0" fill="#4a4e54"/>
<rect x="399.2" y="901.8" width="8.3" height="3.2" rx="0.9" fill="#eeeeee"/>
<rect x="401.0" y="900.6" width="3.5" height="1.6" rx="0.5" fill="#eeeeee" opacity=".9"/>
<rect x="401.7" y="901.1" width="2.2" height="1.0" fill="#4a4e54"/>
<rect x="410.0" y="901.8" width="9.2" height="3.2" rx="0.9" fill="#eeeeee"/>
<rect x="412.1" y="900.6" width="3.9" height="1.6" rx="0.5" fill="#eeeeee" opacity=".9"/>
<rect x="412.8" y="901.1" width="2.4" height="1.0" fill="#4a4e54"/>
<rect x="420.8" y="901.8" width="8.8" height="3.2" rx="0.9" fill="#eeeeee"/>
<rect x="422.8" y="900.6" width="3.7" height="1.6" rx="0.5" fill="#eeeeee" opacity=".9"/>
<rect x="423.5" y="901.1" width="2.3" height="1.0" fill="#4a4e54"/>
<rect x="249.7" y="906.8" width="11.1" height="3.8" rx="1.1" fill="#eeeeee"/>
<rect x="252.2" y="905.4" width="4.7" height="1.9" rx="0.6" fill="#eeeeee" opacity=".9"/>
<rect x="253.0" y="906.0" width="2.9" height="1.1" fill="#4a4e54"/>
<rect x="264.1" y="906.8" width="11.1" height="3.8" rx="1.1" fill="#eeeeee"/>
<rect x="266.5" y="905.4" width="4.6" height="1.9" rx="0.6" fill="#eeeeee" opacity=".9"/>
<rect x="267.4" y="906.0" width="2.9" height="1.1" fill="#4a4e54"/>
<rect x="279.1" y="906.8" width="11.4" height="3.8" rx="1.1" fill="#a83a36"/>
<rect x="281.6" y="905.4" width="4.8" height="1.9" rx="0.6" fill="#a83a36" opacity=".9"/>
<rect x="282.5" y="906.0" width="3.0" height="1.1" fill="#4a4e54"/>
<rect x="294.2" y="906.8" width="10.2" height="3.8" rx="1.1" fill="#eeeeee"/>
<rect x="296.4" y="905.4" width="4.3" height="1.9" rx="0.6" fill="#eeeeee" opacity=".9"/>
<rect x="297.3" y="906.0" width="2.6" height="1.1" fill="#4a4e54"/>
<rect x="306.4" y="906.8" width="10.9" height="3.8" rx="1.1" fill="#eeeeee"/>
<rect x="308.8" y="905.4" width="4.6" height="1.9" rx="0.6" fill="#eeeeee" opacity=".9"/>
<rect x="309.7" y="906.0" width="2.8" height="1.1" fill="#4a4e54"/>
<rect x="319.3" y="906.8" width="9.6" height="3.8" rx="1.1" fill="#eeeeee"/>
<rect x="321.4" y="905.4" width="4.0" height="1.9" rx="0.6" fill="#eeeeee" opacity=".9"/>
<rect x="322.2" y="906.0" width="2.5" height="1.1" fill="#4a4e54"/>
<rect x="331.5" y="906.8" width="9.1" height="3.8" rx="1.1" fill="#eeeeee"/>
<rect x="333.5" y="905.4" width="3.8" height="1.9" rx="0.6" fill="#eeeeee" opacity=".9"/>
<rect x="334.2" y="906.0" width="2.4" height="1.1" fill="#4a4e54"/>
<rect x="342.8" y="906.8" width="9.2" height="3.8" rx="1.1" fill="#eeeeee"/>
<rect x="344.8" y="905.4" width="3.9" height="1.9" rx="0.6" fill="#eeeeee" opacity=".9"/>
<rect x="345.5" y="906.0" width="2.4" height="1.1" fill="#4a4e54"/>
<rect x="353.9" y="906.8" width="11.7" height="3.8" rx="1.1" fill="#eeeeee"/>
<rect x="356.4" y="905.4" width="4.9" height="1.9" rx="0.6" fill="#eeeeee" opacity=".9"/>
<rect x="357.4" y="906.0" width="3.0" height="1.1" fill="#4a4e54"/>
<rect x="367.7" y="906.8" width="9.7" height="3.8" rx="1.1" fill="#eeeeee"/>
<rect x="369.8" y="905.4" width="4.1" height="1.9" rx="0.6" fill="#eeeeee" opacity=".9"/>
<rect x="370.6" y="906.0" width="2.5" height="1.1" fill="#4a4e54"/>
<rect x="380.1" y="906.8" width="9.3" height="3.8" rx="1.1" fill="#a83a36"/>
<rect x="382.1" y="905.4" width="3.9" height="1.9" rx="0.6" fill="#a83a36" opacity=".9"/>
<rect x="382.9" y="906.0" width="2.4" height="1.1" fill="#4a4e54"/>
<rect x="393.6" y="906.8" width="10.4" height="3.8" rx="1.1" fill="#eeeeee"/>
<rect x="395.9" y="905.4" width="4.4" height="1.9" rx="0.6" fill="#eeeeee" opacity=".9"/>
<rect x="396.7" y="906.0" width="2.7" height="1.1" fill="#4a4e54"/>
<rect x="406.0" y="906.8" width="9.2" height="3.8" rx="1.1" fill="#eeeeee"/>
<rect x="408.0" y="905.4" width="3.9" height="1.9" rx="0.6" fill="#eeeeee" opacity=".9"/>
<rect x="408.8" y="906.0" width="2.4" height="1.1" fill="#4a4e54"/>
<rect x="417.7" y="906.8" width="11.5" height="3.8" rx="1.1" fill="#eeeeee"/>
<rect x="420.2" y="905.4" width="4.8" height="1.9" rx="0.6" fill="#eeeeee" opacity=".9"/>
<rect x="421.1" y="906.0" width="3.0" height="1.1" fill="#4a4e54"/>
<rect x="249.7" y="912.6" width="13.1" height="4.6" rx="1.3" fill="#eeeeee"/>
<rect x="252.6" y="910.9" width="5.5" height="2.3" rx="0.7" fill="#eeeeee" opacity=".9"/>
<rect x="253.6" y="911.6" width="3.4" height="1.4" fill="#4a4e54"/>
<rect x="266.3" y="912.6" width="11.2" height="4.6" rx="1.3" fill="#eeeeee"/>
<rect x="268.8" y="910.9" width="4.7" height="2.3" rx="0.7" fill="#eeeeee" opacity=".9"/>
<rect x="269.7" y="911.6" width="2.9" height="1.4" fill="#4a4e54"/>
<rect x="282.2" y="912.6" width="14.4" height="4.6" rx="1.3" fill="#c9c9c9"/>
<rect x="285.4" y="910.9" width="6.1" height="2.3" rx="0.7" fill="#c9c9c9" opacity=".9"/>
<rect x="286.5" y="911.6" width="3.7" height="1.4" fill="#4a4e54"/>
<rect x="299.4" y="912.6" width="12.5" height="4.6" rx="1.3" fill="#eeeeee"/>
<rect x="302.1" y="910.9" width="5.2" height="2.3" rx="0.7" fill="#eeeeee" opacity=".9"/>
<rect x="303.1" y="911.6" width="3.2" height="1.4" fill="#4a4e54"/>
<rect x="316.0" y="912.6" width="13.1" height="4.6" rx="1.3" fill="#c9c9c9"/>
<rect x="318.9" y="910.9" width="5.5" height="2.3" rx="0.7" fill="#c9c9c9" opacity=".9"/>
<rect x="319.9" y="911.6" width="3.4" height="1.4" fill="#4a4e54"/>
<rect x="332.0" y="912.6" width="11.9" height="4.6" rx="1.3" fill="#c9c9c9"/>
<rect x="334.7" y="910.9" width="5.0" height="2.3" rx="0.7" fill="#c9c9c9" opacity=".9"/>
<rect x="335.6" y="911.6" width="3.1" height="1.4" fill="#4a4e54"/>
<rect x="348.7" y="912.6" width="14.4" height="4.6" rx="1.3" fill="#c9c9c9"/>
<rect x="351.8" y="910.9" width="6.0" height="2.3" rx="0.7" fill="#c9c9c9" opacity=".9"/>
<rect x="353.0" y="911.6" width="3.7" height="1.4" fill="#4a4e54"/>
<rect x="367.3" y="912.6" width="13.9" height="4.6" rx="1.3" fill="#eeeeee"/>
<rect x="370.4" y="910.9" width="5.9" height="2.3" rx="0.7" fill="#eeeeee" opacity=".9"/>
<rect x="371.5" y="911.6" width="3.6" height="1.4" fill="#4a4e54"/>
<rect x="384.7" y="912.6" width="12.4" height="4.6" rx="1.3" fill="#eeeeee"/>
<rect x="387.4" y="910.9" width="5.2" height="2.3" rx="0.7" fill="#eeeeee" opacity=".9"/>
<rect x="388.4" y="911.6" width="3.2" height="1.4" fill="#4a4e54"/>
<rect x="399.3" y="912.6" width="12.1" height="4.6" rx="1.3" fill="#eeeeee"/>
<rect x="401.9" y="910.9" width="5.1" height="2.3" rx="0.7" fill="#eeeeee" opacity=".9"/>
<rect x="402.9" y="911.6" width="3.2" height="1.4" fill="#4a4e54"/>
<rect x="415.3" y="912.6" width="14.8" height="4.6" rx="1.3" fill="#eeeeee"/>
<rect x="418.6" y="910.9" width="6.2" height="2.3" rx="0.7" fill="#eeeeee" opacity=".9"/>
<rect x="419.8" y="911.6" width="3.8" height="1.4" fill="#4a4e54"/>
<rect x="249.9" y="919.4" width="19.3" height="6.4" rx="1.8" fill="#eeeeee"/>
<rect x="254.2" y="917.0" width="8.1" height="3.2" rx="1.0" fill="#eeeeee" opacity=".9"/>
<rect x="255.7" y="918.0" width="5.0" height="1.9" fill="#4a4e54"/>
<rect x="272.4" y="919.4" width="15.6" height="6.4" rx="1.8" fill="#eeeeee"/>
<rect x="275.8" y="917.0" width="6.6" height="3.2" rx="1.0" fill="#eeeeee" opacity=".9"/>
<rect x="277.0" y="918.0" width="4.1" height="1.9" fill="#4a4e54"/>
<rect x="291.0" y="919.4" width="17.6" height="6.4" rx="1.8" fill="#8a8c8e"/>
<rect x="294.9" y="917.0" width="7.4" height="3.2" rx="1.0" fill="#8a8c8e" opacity=".9"/>
<rect x="296.3" y="918.0" width="4.6" height="1.9" fill="#4a4e54"/>
<rect x="313.7" y="919.4" width="16.9" height="6.4" rx="1.8" fill="#eeeeee"/>
<rect x="317.5" y="917.0" width="7.1" height="3.2" rx="1.0" fill="#eeeeee" opacity=".9"/>
<rect x="318.8" y="918.0" width="4.4" height="1.9" fill="#4a4e54"/>
<rect x="335.6" y="919.4" width="14.9" height="6.4" rx="1.8" fill="#eeeeee"/>
<rect x="338.9" y="917.0" width="6.3" height="3.2" rx="1.0" fill="#eeeeee" opacity=".9"/>
<rect x="340.1" y="918.0" width="3.9" height="1.9" fill="#4a4e54"/>
<rect x="355.8" y="919.4" width="18.4" height="6.4" rx="1.8" fill="#c9c9c9"/>
<rect x="359.8" y="917.0" width="7.7" height="3.2" rx="1.0" fill="#c9c9c9" opacity=".9"/>
<rect x="361.3" y="918.0" width="4.8" height="1.9" fill="#4a4e54"/>
<rect x="378.2" y="919.4" width="15.4" height="6.4" rx="1.8" fill="#c9c9c9"/>
<rect x="381.5" y="917.0" width="6.5" height="3.2" rx="1.0" fill="#c9c9c9" opacity=".9"/>
<rect x="382.8" y="918.0" width="4.0" height="1.9" fill="#4a4e54"/>
<rect x="397.0" y="919.4" width="18.5" height="6.4" rx="1.8" fill="#8a8c8e"/>
<rect x="401.1" y="917.0" width="7.8" height="3.2" rx="1.0" fill="#8a8c8e" opacity=".9"/>
<rect x="402.5" y="918.0" width="4.8" height="1.9" fill="#4a4e54"/>
<rect x="419.2" y="919.4" width="16.5" height="6.4" rx="1.8" fill="#8a8c8e"/>
<rect x="422.8" y="917.0" width="6.9" height="3.2" rx="1.0" fill="#8a8c8e" opacity=".9"/>
<rect x="424.1" y="918.0" width="4.3" height="1.9" fill="#4a4e54"/>
<rect x="240" y="890" width="190" height="6.5" fill="#6a6c5e"/>
<rect x="257" y="885.4" width="40" height="3.2" fill="#b45e40"/><rect x="259" y="888.4" width="38" height="4" fill="#77604c"/>
<path d="M366,893.5 C368,884 376,879.5 383,879.5 C391,879.5 398,884 399,893.5 Z" fill="#c9cacb"/>
<path d="M321,894.5 C318,886 322,878.5 331,877.5 C340,877 343,886 341,894.5 Z" fill="#34432a"/>
<path d="M347,895.5 C345,888 350,882 358,881.5 C367,881.5 371,888 369,895.5 Z" fill="#3b4a2e"/>
<path d="M394,896 C394,889 400,885 405,886 C411,887 413,892 412,897 Z" fill="#3e4c30"/>
<path d="M296,893 C296,887 301,884 305,885 C309,886 311,890 310,894 Z" fill="#4a5838"/>
<rect x="272.4" y="858" width="1.1" height="72" fill="#54565a"/>
<rect x="344" y="914" width="20" height="9.5" fill="#a03432"/><rect x="383" y="895" width="16" height="5" fill="#b03838"/>
<rect x="369" y="913" width="19" height="17" fill="#3a4a3c"/>
<rect x="386.5" y="910.5" width="36" height="19" fill="#ececec"/><g fill="#9c9c9c"><rect x="392" y="914" width="1.2" height="15"/><rect x="398" y="914" width="1.2" height="15"/><rect x="404" y="914" width="1.2" height="15"/><rect x="410" y="914" width="1.2" height="15"/></g>
</g></g>
<!-- photo 2: forklifts -->
<g clip-path="url(#c2)"><g filter="url(#pb)">
<rect x="405" y="850" width="190" height="42" fill="#bcc3cd"/>
<rect x="405" y="889" width="190" height="42" fill="#8e8e90"/>
<rect x="405" y="915" width="190" height="16" fill="#7c7c80"/>
<path d="M407,869 L458,866 L461,878 L458,884 L410,886 Z" fill="#eceef0"/>
<rect x="416" y="872.5" width="24" height="4.2" fill="#3e5e9e"/>
<rect x="414" y="885" width="36" height="22" fill="#4a5058"/><rect x="420" y="888" width="14" height="12" fill="#3a66a8"/><rect x="437" y="893" width="12" height="9" fill="#d8dadc"/>
<path d="M459,854 L566,852 L568,876 L459,877 Z" fill="#d9dbdf"/>
<path d="M459,850 L566,850 L566,857 L459,858 Z" fill="#b4bac4"/>
<rect x="501.5" y="858" width="20" height="17" fill="#42444a"/>
<path d="M498,875.5 L566,875 L566,889 L500,888 Z" fill="#5e6266"/>
<rect x="544" y="876.5" width="25" height="18" rx="2" fill="#e6e6e6"/>
<rect x="449.5" y="860.5" width="3.6" height="50" fill="#7a2c20"/><rect x="455.5" y="860.5" width="3.6" height="50" fill="#6e2a1e"/>
<rect x="446" y="906" width="16" height="3" fill="#3a2a28"/>
<path d="M463,890 L468,879.5 L487,879.5 L489,888 L500,889.5 L501.5,906 L462,907 Z" fill="#d24a2a"/>
<path d="M470,881.5 L485.5,881.5 L487,888 L468,889 Z" fill="#5a3a34"/>
<circle cx="469" cy="906" r="5.2" fill="#1e1e20"/><circle cx="494" cy="905.5" r="5" fill="#1e1e20"/>
<rect x="530.6" y="883" width="3.4" height="28" fill="#1c1c1e"/><rect x="558.5" y="883" width="3" height="30" fill="#1c1c1e"/><rect x="530.6" y="881.6" width="38" height="3" fill="#1c1c1e"/>
<rect x="541" y="890" width="14" height="17" fill="#5a5e60"/>
<path d="M522.5,907 L548,906.5 L548,913 L564,916.5 L566,929 L522.5,929 Z" fill="#e9d22e"/>
<rect x="521" y="921" width="30" height="8" fill="#d0b820"/>
<rect x="564" y="895" width="14" height="34" fill="#3c3430"/><circle cx="571" cy="892" r="3.4" fill="#caa684"/>
</g>
<text x="522" y="872.6" font-family="Liberation Sans, sans-serif" font-weight="bold" font-size="15" fill="#dc2a2c" textLength="41" lengthAdjust="spacingAndGlyphs">Florida</text>
</g>
<!-- photo 3: warehouse -->
<g clip-path="url(#c3)"><g filter="url(#pb)">
<rect x="565" y="850" width="160" height="36" fill="#e7e0cf"/>
<path d="M577,857 L612,855 L612,869 L577,871 Z" fill="#4a505a"/><path d="M615,853 L657,850 L657,864 L615,866.5 Z" fill="#474d57"/><path d="M661,850 L684,850 L684,858 L661,859.5 Z" fill="#4c525c"/><rect x="690" y="850" width="30" height="6" fill="#59606a"/>
<g fill="#e7e0cf"><rect x="588" y="855" width="1.6" height="17"/><rect x="600" y="855" width="1.6" height="16"/><rect x="628" y="851" width="1.6" height="16"/><rect x="642" y="851" width="1.6" height="15"/></g>
<path d="M565,883 L652,877 L652,889 L565,895.5 Z" fill="#f5f5f5"/>
<path d="M652,866 L720,861 L720,886 L652,888.5 Z" fill="#f7f7f7"/>
<path d="M565,895.5 L652,889 L720,886 L720,931 L565,931 Z" fill="#2a2c34"/>
<path d="M652,889 L720,886 L720,920 L668,921 Z" fill="#1e3466"/>
<path d="M590,891.5 C615,889 640,888.5 664,889.5 C669,897 669,908 664,917 C652,923 640,923 628,919 C612,913 598,903 590,891.5 Z" fill="url(#tarp)"/>
<path d="M592,892 C615,890 640,889.5 663,890.5 C650,894 615,895 592,892 Z" fill="#eccb8a"/>
<rect x="689" y="898" width="26" height="27" fill="#c3a471"/><rect x="693" y="897" width="10" height="6" fill="#d2b684"/><rect x="689" y="910" width="26" height="1.2" fill="#8c7248"/>
<rect x="590" y="907" width="14" height="13" fill="#b79c72"/><rect x="608" y="911" width="16" height="12" fill="#c2a67a"/><rect x="590" y="921" width="82" height="8" fill="#a89470"/><rect x="628" y="918" width="18" height="8" fill="#b8a078"/>
<rect x="565" y="896" width="14" height="24" fill="#30343c"/>
</g>
<path d="M660,885.4 L664.5,870 C665.5,867 668,866 670,866.4 L667,885 Z" fill="#18181c"/>
<path d="M666,868 C669,865.6 672,866.6 673,870 L675,885 L668,885.2 C668.4,878 668,872 666,868 Z" fill="url(#rb)"/>
<text x="675.5" y="883.2" font-family="Liberation Sans, sans-serif" font-weight="bold" font-size="23" fill="#1a2250" stroke="#1a2250" stroke-width=".5" textLength="46" lengthAdjust="spacingAndGlyphs">LBO</text>
<text x="574" y="893.2" font-family="Liberation Serif, serif" font-weight="bold" font-size="10.5" fill="#2a2c38" transform="rotate(-4 574 893)" textLength="30" lengthAdjust="spacingAndGlyphs">NA S.A.</text>
<text x="609" y="889.4" font-family="Liberation Serif, serif" font-style="italic" font-size="4.6" fill="#3a3c48" transform="rotate(-4 609 889)" textLength="40" lengthAdjust="spacingAndGlyphs">Almacenando su Confianza</text>
</g>
<!-- ALBO logo "A" -->
<path d="M39.5,894 C40.5,878 45,862 55,858.2 L66.4,858.6 L61.6,864.6 C57,872 54.6,882 53.8,894 Z" fill="#0c0c0c"/>
<path d="M60.2,863.4 C63,860.6 65.4,859.6 67.6,859.4 C72.4,866 75.6,880 76.4,894 L62.6,894 C62.6,884 61.6,873 58.6,866.4 Z" fill="url(#rb)"/>
<path d="M67.6,859.4 C72.4,866 75.6,880 76.4,894" fill="none" stroke="#0c0c0c" stroke-width="1"/>
<rect x="53.6" y="879.8" width="9.2" height="3.6" fill="#0c0c0c"/>
</svg>
<div class="abs" id="albo" style="left:77.6px;top:869.2px;font-size:24px;font-weight:bold;line-height:30px;color:#0c0c0c;-webkit-text-stroke:1.5px #0c0c0c;transform-origin:0 0;transform:scaleX(1.06)">LBO S.A.</div>
<div class="abs" id="albo2" style="left:38.6px;top:894.6px;font-size:12.6px;letter-spacing:.19px;line-height:14px;color:#262626">Almacenera Boliviana S.A.</div>
<div class="abs" id="albo3" style="left:111px;top:908.6px;font-family:'Liberation Serif',serif;font-style:italic;font-weight:bold;font-size:8px;letter-spacing:.5px;line-height:9px;color:#262626">"Almacenando su confianza"</div>
<div class="abs" id="fgreen" style="left:0;top:929.6px;width:720px;height:31px;background:#003300"></div>
<div class="abs ft" id="ft1" style="top:932.8px;left:35px;width:auto;text-align:left"><span id="ft1a" style="font-size:10.86px">Derechos Reservados © Instituto Boliviano de Comercio</span> <span id="ft1b" style="font-size:9.78px">Exterior (IBCE). Se podrá reproducir el contenido de esta publicación citando la fuente.</span></div>
<div class="abs ft" id="ft2" style="top:946.6px;font-size:9.63px">El IBCE no se hace responsable de la información que este Boletín contenga, siendo que se especifican las fuentes de donde se obtiene la misma.</div>


</div>
</body>
</html>
